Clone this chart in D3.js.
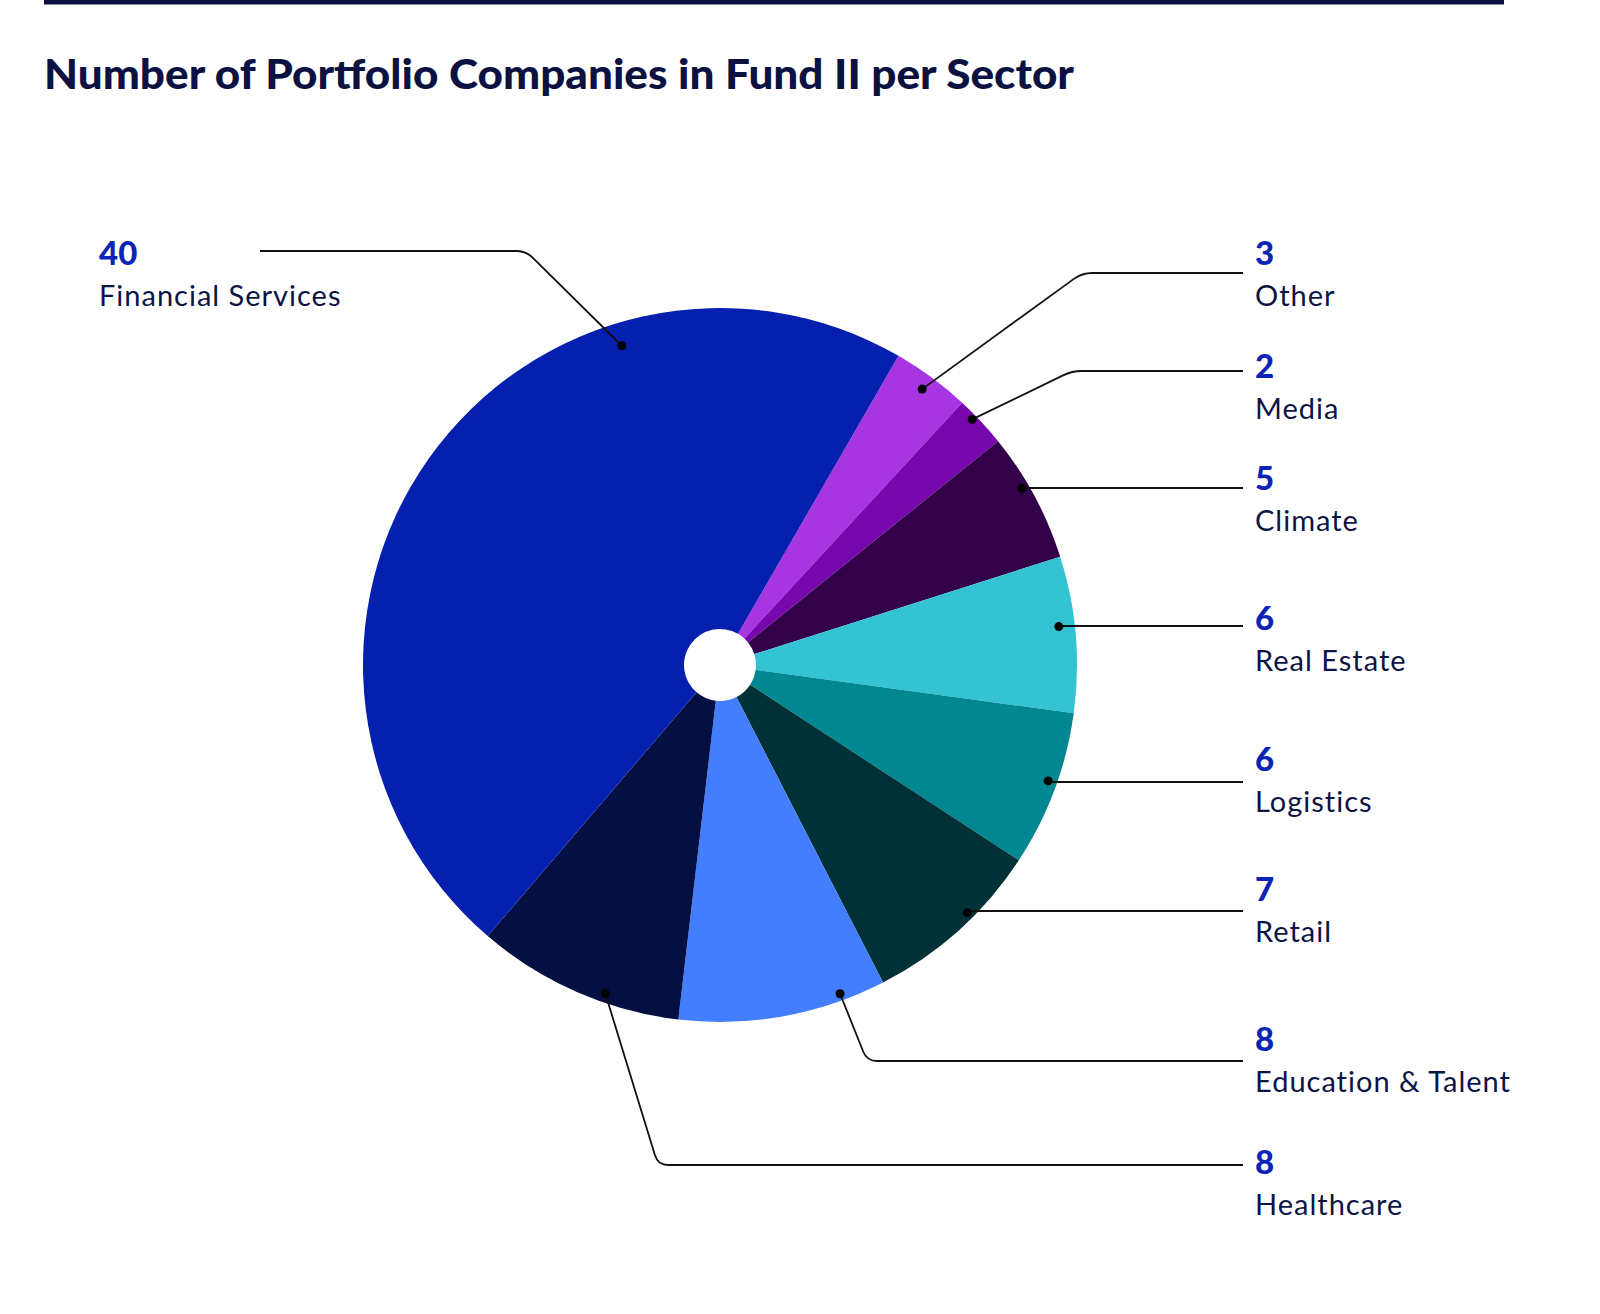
<!DOCTYPE html>
<html>
<head>
<meta charset="utf-8">
<script src="https://cdn.jsdelivr.net/npm/d3@7"></script>
<style>
  html, body { margin: 0; padding: 0; background: #fff; }
  svg { display: block; }
</style>
</head>
<body>
<svg id="chart" width="1600" height="1314"></svg>
<script>
// data
var sectors = ["Other", "Media", "Climate", "Real Estate", "Logistics", "Retail", "Education & Talent", "Healthcare", "Financial Services"];
var counts = [3, 2, 5, 6, 6, 7, 8, 8, 40];
var colors = ["#a736e2", "#7708ae", "#33004a", "#34c3d3", "#008791", "#003137", "#437eff", "#040f42", "#0520ae"];

// label layout (annotation placement, not data)
var anchorT = [0.49, 0.36, 0.40, 0.44, 0.46, 0.40, 0.21, 0.37, 0.722]; // where the dot sits inside the slice
var anchorR = [342, 352, 350, 341, 348, 350, 350, 348, 334];
var lineY = [273, 371, 488, 626, 782, 911, 1061, 1165, 251];
var elbowX = [1082, 1072, null, null, null, null, 867, 658, 526];
var labelY = [265, 378, 490, 630, 771, 901, 1051, 1174, 265];

var svg = d3.select("#chart");
var cx = 720, cy = 665, outerR = 357, innerR = 36;

svg.append("rect")
    .attr("x", 44).attr("y", 0)
    .attr("width", 1460).attr("height", 4.5)
    .attr("fill", "#0a1142");

var title = svg.append("text")
    .attr("x", 44).attr("y", 89)
    .attr("fill", "#0b1140")
    .style("font", "900 41px Lato, sans-serif")
    .text("Number of Portfolio Companies in Fund II per Sector");
// stretch to the width the title takes in the reference
title.attr("textLength", 1030).attr("lengthAdjust", "spacingAndGlyphs");

var rows = sectors.map(function (s, i) { return { name: s, value: counts[i], color: colors[i], i: i }; });

var pie = d3.pie()
    .sort(null)
    .value(function (d) { return d.value; })
    .startAngle(30 * Math.PI / 180)
    .endAngle(390 * Math.PI / 180);

var arc = d3.arc().innerRadius(innerR).outerRadius(outerR);
var arcs = pie(rows);

var g = svg.append("g").attr("transform", "translate(" + cx + "," + cy + ")");
g.selectAll("path.slice")
    .data(arcs)
    .enter().append("path")
    .attr("class", "slice")
    .attr("d", arc)
    .attr("fill", function (d) { return d.data.color; });

function anchor(d) {
    var i = d.data.i;
    var a = d.startAngle + (d.endAngle - d.startAngle) * anchorT[i];
    return [cx + anchorR[i] * Math.sin(a), cy - anchorR[i] * Math.cos(a)];
}

// leader from dot to elbow then flat to the label, with a rounded corner
function leader(d) {
    var i = d.data.i;
    var p = anchor(d);
    var left = d.data.name === "Financial Services";
    var endX = left ? 260 : 1243;
    var y = lineY[i];
    if (elbowX[i] === null) {
        return "M" + p[0] + "," + y + "L" + endX + "," + y;
    }
    var ex = elbowX[i], r = 10;
    var dx = ex - p[0], dy = y - p[1];
    var len = Math.sqrt(dx * dx + dy * dy);
    var bx = ex - dx / len * r, by = y - dy / len * r;
    var ax = ex + (endX > ex ? r : -r);
    return "M" + p[0] + "," + p[1] + "L" + bx + "," + by + "Q" + ex + "," + y + " " + ax + "," + y + "L" + endX + "," + y;
}

var lab = svg.append("g").selectAll("g.lab")
    .data(arcs)
    .enter().append("g")
    .attr("class", "lab");

lab.append("path")
    .attr("d", leader)
    .attr("fill", "none")
    .attr("stroke", "#111")
    .attr("stroke-width", 1.8);

lab.append("circle")
    .attr("cx", function (d) { return anchor(d)[0]; })
    .attr("cy", function (d) { return anchor(d)[1]; })
    .attr("r", 4.5)
    .attr("fill", "#000");

var tx = function (d) { return d.data.name === "Financial Services" ? 99 : 1255; };

lab.append("text")
    .attr("x", tx)
    .attr("y", function (d) { return labelY[d.data.i]; })
    .attr("fill", "#0a24b5")
    .style("font", "900 33px Lato, sans-serif")
    .text(function (d) { return d.data.value; });

lab.append("text")
    .attr("x", tx)
    .attr("y", function (d) { return labelY[d.data.i] + 41; })
    .attr("fill", "#0c1445")
    .style("font", "29px Lato, sans-serif")
    .style("letter-spacing", "1px")
    .text(function (d) { return d.data.name; });
</script>
</body>
</html>
